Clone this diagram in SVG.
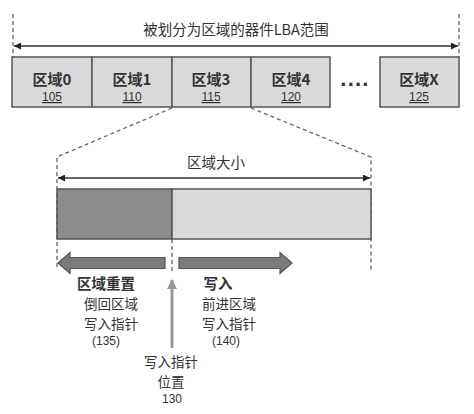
<svg xmlns="http://www.w3.org/2000/svg" width="474" height="414" viewBox="0 0 474 414">
<style>
.t{font-family:"Noto Sans CJK SC","Liberation Sans",sans-serif;fill:#333;text-anchor:middle}
.b{font-weight:bold}
.lbl{font-size:15px;font-weight:bold}
.num{font-family:"Liberation Sans",sans-serif;font-size:12px;font-weight:normal;text-decoration:underline}
.par{font-family:"Liberation Sans",sans-serif;font-size:12px}
.zone{fill:#d9d9d9;stroke:#555;stroke-width:1.5}
.dash{fill:none;stroke:#666;stroke-width:1.3;stroke-dasharray:4,3}
.dim{stroke:#333;stroke-width:1.3;fill:none}
.blk{fill:#7a7a7a;stroke:#555;stroke-width:1.2}
</style>
<defs>
<marker id="ah" viewBox="0 0 10 10" refX="10" refY="5" markerWidth="7" markerHeight="7" orient="auto-start-reverse" markerUnits="userSpaceOnUse">
<path d="M0,0 L10,5 L0,10 z" fill="#222"/>
</marker>
<marker id="gh" viewBox="0 0 10 10" refX="9" refY="5" markerWidth="3.5" markerHeight="3.5" orient="auto">
<path d="M0,0 L10,5 L0,10 z" fill="#999"/>
</marker>
</defs>
<g id="connectors">
<line class="dash" x1="13" y1="14" x2="13" y2="57"/>
<line class="dash" x1="459" y1="14" x2="459" y2="57"/>
<line class="dim" x1="14" y1="46" x2="458" y2="46" marker-start="url(#ah)" marker-end="url(#ah)"/>
<polyline class="dash" points="172,108 57,157 57,270"/>
<polyline class="dash" points="251,108 371,157 371,270"/>
<line class="dash" x1="172" y1="239" x2="172" y2="272"/>
<line class="dim" x1="58" y1="178" x2="370" y2="178" marker-start="url(#ah)" marker-end="url(#ah)"/>
<line x1="172" y1="348" x2="172" y2="280" stroke="#999" stroke-width="3" marker-end="url(#gh)"/>
</g>
<g id="title"><text class="t" x="236" y="35" font-size="14.5">被划分为区域的器件LBA范围</text></g>
<g id="zone0"><rect class="zone" x="12" y="57" width="80" height="50"/><text class="t lbl"><tspan x="52" y="85">区域0</tspan><tspan class="num" x="52" y="101">105</tspan></text></g>
<g id="zone1"><rect class="zone" x="92" y="57" width="80" height="50"/><text class="t lbl"><tspan x="132" y="85">区域1</tspan><tspan class="num" x="132" y="101">110</tspan></text></g>
<g id="zone3"><rect class="zone" x="172" y="57" width="79" height="50"/><text class="t lbl"><tspan x="211" y="85">区域3</tspan><tspan class="num" x="211" y="101">115</tspan></text></g>
<g id="zone4"><rect class="zone" x="251" y="57" width="79" height="50"/><text class="t lbl"><tspan x="291" y="85">区域4</tspan><tspan class="num" x="291" y="101">120</tspan></text></g>
<g id="ellipsis"><text x="355" y="92" font-family="Liberation Sans, sans-serif" font-weight="bold" font-size="22" fill="#333" text-anchor="middle">····</text></g>
<g id="zoneX"><rect class="zone" x="380" y="57" width="79" height="50"/><text class="t lbl"><tspan x="419" y="85">区域X</tspan><tspan class="num" x="419" y="101">125</tspan></text></g>
<g id="zoneSize"><text class="t" x="216" y="168" font-size="14.5">区域大小</text></g>
<g id="bar">
<rect x="57" y="189" width="115" height="50" fill="#8c8c8c" stroke="#555" stroke-width="1.5"/>
<rect x="172" y="189" width="199" height="50" fill="#d9d9d9" stroke="#555" stroke-width="1.5"/>
</g>
<g id="resetArrow"><path class="blk" d="M165,257.5 L70,257.5 L70,252.5 L58,263 L70,273.5 L70,268.5 L165,268.5 z"/></g>
<g id="writeArrow"><path class="blk" d="M179,257.5 L280,257.5 L280,252.5 L292,263 L280,273.5 L280,268.5 L179,268.5 z"/></g>
<g id="resetLabel">
<text class="t" font-size="13.5"><tspan class="b" font-size="14.5" x="106" y="289">区域重置</tspan><tspan x="111" y="309">倒回区域</tspan><tspan x="111" y="328.6">写入指针</tspan><tspan class="par" x="106" y="345">(135)</tspan></text>
</g>
<g id="writeLabel">
<text class="t" font-size="13.5"><tspan class="b" font-size="14.5" x="218" y="289">写入</tspan><tspan x="229" y="309">前进区域</tspan><tspan x="229" y="328.6">写入指针</tspan><tspan class="par" x="226" y="345">(140)</tspan></text>
</g>
<g id="wpLabel">
<text class="t" font-size="13.5"><tspan x="171" y="367">写入指针</tspan><tspan x="171" y="386.6">位置</tspan><tspan class="par" x="172" y="403">130</tspan></text>
</g>
</svg>
